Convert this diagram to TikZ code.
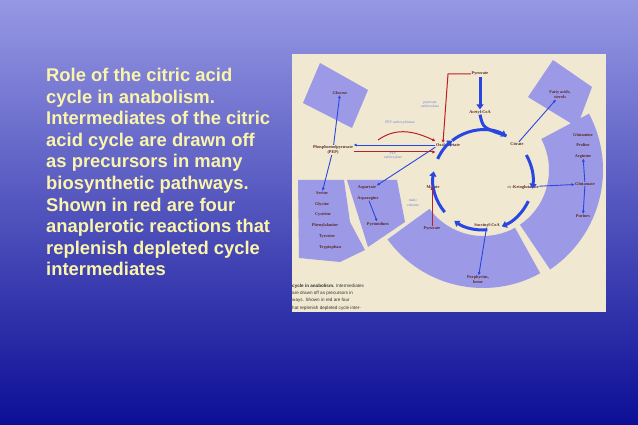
\documentclass[tikz,border=0pt]{standalone}
\usepackage{fontspec}
\setmainfont{Liberation Serif}
\newfontfamily\slidefont{Liberation Sans}
\usetikzlibrary{arrows.meta,calc}
\definecolor{slidetop}{RGB}{150,152,228}
\definecolor{slidebot}{RGB}{12,14,150}
\definecolor{paper}{RGB}{240,232,208}
\definecolor{band}{RGB}{156,154,230}
\definecolor{cycblue}{RGB}{40,70,225}
\definecolor{redarr}{RGB}{190,30,40}
\definecolor{labcol}{RGB}{90,40,40}
\definecolor{enzcol}{RGB}{110,130,220}
\definecolor{bodytext}{RGB}{250,245,170}
\tikzset{
  lab/.style={font=\bfseries\fontsize{4.3}{5}\selectfont, text=labcol, inner sep=0.5pt, align=center},
  enz/.style={font=\fontsize{3.8}{4.3}\selectfont, text=enzcol, inner sep=0.5pt, align=center},
  thin/.style={draw=cycblue, line width=0.9pt, -{Triangle[length=3pt,width=2.6pt]}},
  thick/.style={draw=cycblue, line width=3pt, -{Triangle[length=5pt,width=7pt]}},
  red/.style={draw=redarr, line width=1pt, -{Triangle[length=3pt,width=2.8pt]}},
}
\begin{document}
\begin{tikzpicture}[x=1pt,y=-1pt]
\useasboundingbox (0,0) rectangle (638,425);
\shade[top color=slidetop, bottom color=slidebot] (0,0) rectangle (638,425);
% text of the slide
\node[anchor=north west, inner sep=0pt, text=bodytext,
      font=\slidefont\bfseries\fontsize{18.4}{21.6}\selectfont, align=left] (body) at (46,68)
  {Role of the citric acid\\cycle in anabolism.\\Intermediates of the citric\\acid cycle are drawn off\\as precursors in many\\biosynthetic pathways.\\Shown in red are four\\anaplerotic reactions that\\replenish depleted cycle\\intermediates};
% the photographed figure
\fill[paper] (292,54) rectangle (606,312);
\begin{scope}
\clip (292,54) rectangle (606,312);
\fill[band] (483,170) ++(56:66) arc (56:-28:66) -- ++(-28:54) arc (-28:56:120) -- cycle;
\fill[band] (483,170) ++(144:66) arc (144:61:66) -- ++(61:52) arc (61:144:118) -- cycle;
\end{scope}
\fill[band] (347,180) -- (397,180) -- (405,222) -- (368,247) -- cycle;
\fill[band] (298,180) -- (344,180) -- (350,222) -- (365,250) -- (340,262) -- (299,258) -- cycle;
\fill[band] (320,63) -- (368,90) -- (352,128) -- (303,103) -- cycle;
\fill[band] (528,97) -- (553,60) -- (592,87) -- (577,127) -- cycle;
% labels
\node[lab] (pyr) at (480,74) {Pyruvate};
\node[lab] (acoa) at (480,112) {Acetyl-CoA};
\node[enz] (pc) at (430,105) {pyruvate\\carboxylase};
\node[enz] (pepck) at (400,123) {PEP carboxykinase};
\node[lab] (oaa) at (448,145) {Oxaloacetate};
\node[lab] (cit) at (517,144) {Citrate};
\node[lab] (pep) at (333,150) {Phosphoenolpyruvate\\(PEP)};
\node[enz] (pepc) at (393,156) {PEP\\carboxylase};
\node[lab] (glc) at (340,93) {Glucose};
\node[lab] (fat) at (560,95) {Fatty acids,\\sterols};
\node[lab] (gln) at (583,135) {Glutamine};
\node[lab] (pro) at (583,145) {Proline};
\node[lab] (arg) at (583,156) {Arginine};
\node[lab] (glu) at (585,184) {Glutamate};
\node[lab] (pur) at (583,216) {Purines};
\node[lab] (akg) at (523,187) {$\alpha$-Ketoglutarate};
\node[lab] (mal) at (433,187) {Malate};
\node[enz] (me) at (413,203) {malic\\enzyme};
\node[lab] (pyrb) at (432,229) {Pyruvate};
\node[lab] (scoa) at (487,225) {Succinyl-CoA};
\node[lab] (por) at (478,280) {Porphyrins,\\heme};
\node[lab] (asp) at (367,188) {Aspartate};
\node[lab] (asn) at (368,198) {Asparagine};
\node[lab] (pyd) at (378,224) {Pyrimidines};
\node[lab] (ser) at (322,193) {Serine};
\node[lab] (gly) at (322,204) {Glycine};
\node[lab] (cys) at (323,214) {Cysteine};
\node[lab] (phe) at (325,225) {Phenylalanine};
\node[lab] (tyr) at (327,236) {Tyrosine};
\node[lab] (trp) at (330,247) {Tryptophan};
\node[anchor=north west, inner sep=0pt, align=left, text=black!80,
      font=\slidefont\fontsize{4.6}{7.2}\selectfont] (cap) at (292,284)
  {\textbf{cycle in anabolism.} Intermediates\\are drawn off as precursors in\\ways. Shown in red are four\\hat replenish depleted cycle inter-};
% the cycle
\coordinate (ctr) at (483,180);
\foreach \a/\b in {-128/-62, -30/10, 25/68, 85/125, 140/190, 205/232} {
  \draw[thick] (ctr) ++(\a:50) arc (\a:\b:50);
}
\draw[thick] (pyr) -- (acoa);
\draw[draw=cycblue, line width=3pt] (acoa.south) .. controls (483,128) .. ($(ctr)+(-62:50)$);
% blue side paths
\draw[thin] (pep) -- (glc);
\draw[thin] (pep) -- (ser);
\draw[thin] (oaa.south west) -- (asp.north east);
\draw[thin] (asn) -- (pyd);
\draw[thin] (cit) -- (fat);
\draw[thin] (akg) -- (glu);
\draw[thin] (glu) -- (arg);
\draw[thin] (glu) -- (pur);
\draw[thin] (scoa) -- (por);
\draw[thin] (oaa.west) -- (pep.east |- oaa.west);
% red anaplerotic reactions
\draw[red] (pyr.west) -- (448,74) -- (oaa.north -| 443,0);
\draw[red] (pep.east |- 0,152) -- (oaa.west |- 0,152);
\draw[red] (378,140) .. controls (395,128) and (412,130) .. (oaa.west |- 0,141);
\draw[red] (pyrb) -- (mal -| pyrb);
\end{tikzpicture}
\end{document}
